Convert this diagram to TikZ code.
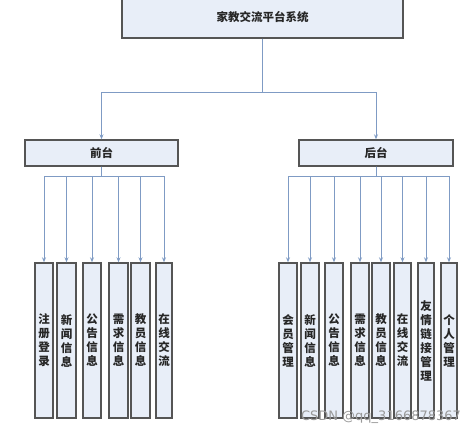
\documentclass[tikz,border=0pt]{standalone}
\usepackage{fontspec}
\newfontfamily\cjk{Noto Sans CJK SC}
\usetikzlibrary{arrows.meta}
\definecolor{boxfill}{HTML}{E8EEF8}
\definecolor{boxline}{HTML}{555555}
\definecolor{connline}{HTML}{7F9BC4}
\tikzset{
  box/.style={draw=boxline, line width=1.4pt, fill=boxfill, inner sep=0pt,
    font={\cjk\bfseries\fontsize{11.5}{14}\selectfont}, text=black!85},
  vbox/.style={box, minimum width=18pt, minimum height=155pt, text width=12pt, align=center},
  conn/.style={draw=connline, line width=0.8pt, -{Stealth[length=5pt,width=4pt]}},
}
\begin{document}
\begin{tikzpicture}[x=1pt,y=-1pt]
\useasboundingbox (0,0) rectangle (474,432);
% top
\node[box, minimum width=281pt, minimum height=41pt] (top) at (262.5,17.5) {家教交流平台系统};
\node[box, minimum width=153pt, minimum height=26pt] (front) at (101.5,153) {前台};
\node[box, minimum width=154pt, minimum height=26pt] (back) at (376,153) {后台};
\coordinate (tj) at (262.5,92);
\draw[conn] (top.south) -- (tj) -| (front.north);
\draw[conn] (top.south) -- (tj) -| (back.north);
% left children
\node[vbox, minimum width=18pt] (f1) at (44,340.5) {注\\册\\登\\录};
\node[vbox, minimum width=19pt] (f2) at (66.5,340.5) {新\\闻\\信\\息};
\node[vbox, minimum width=18pt] (f3) at (92,340.5) {公\\告\\信\\息};
\node[vbox, minimum width=19pt] (f4) at (118.5,340.5) {需\\求\\信\\息};
\node[vbox, minimum width=19pt] (f5) at (140.5,340.5) {教\\员\\信\\息};
\node[vbox, minimum width=16pt] (f6) at (164,340.5) {在\\线\\交\\流};
\coordinate (fj) at (101.5,176);
\foreach \i in {1,...,6} {\draw[conn] (front.south) -- (fj) -| (f\i.north);}
% right children
\node[vbox, minimum width=18pt] (b1) at (288,340.5) {会\\员\\管\\理};
\node[vbox, minimum width=18pt] (b2) at (310,340.5) {新\\闻\\信\\息};
\node[vbox, minimum width=18pt] (b3) at (334,340.5) {公\\告\\信\\息};
\node[vbox, minimum width=18pt] (b4) at (360,340.5) {需\\求\\信\\息};
\node[vbox, minimum width=18pt] (b5) at (381,340.5) {教\\员\\信\\息};
\node[vbox, minimum width=17pt] (b6) at (402.5,340.5) {在\\线\\交\\流};
\node[vbox, minimum width=16pt] (b7) at (426,340.5) {友\\情\\链\\接\\管\\理};
\node[vbox, minimum width=16pt] (b8) at (449,340.5) {个\\人\\管\\理};
\coordinate (bj) at (376,176);
\foreach \i in {1,...,8} {\draw[conn] (back.south) -- (bj) -| (b\i.north);}
% watermark
\node[font={\fontspec{DejaVu Sans}\fontsize{13}{13}\selectfont}, text=black!40, anchor=center, inner sep=0pt] (wm) at (381,417) {CSDN @qq\_3166878367};
\end{tikzpicture}
\end{document}
